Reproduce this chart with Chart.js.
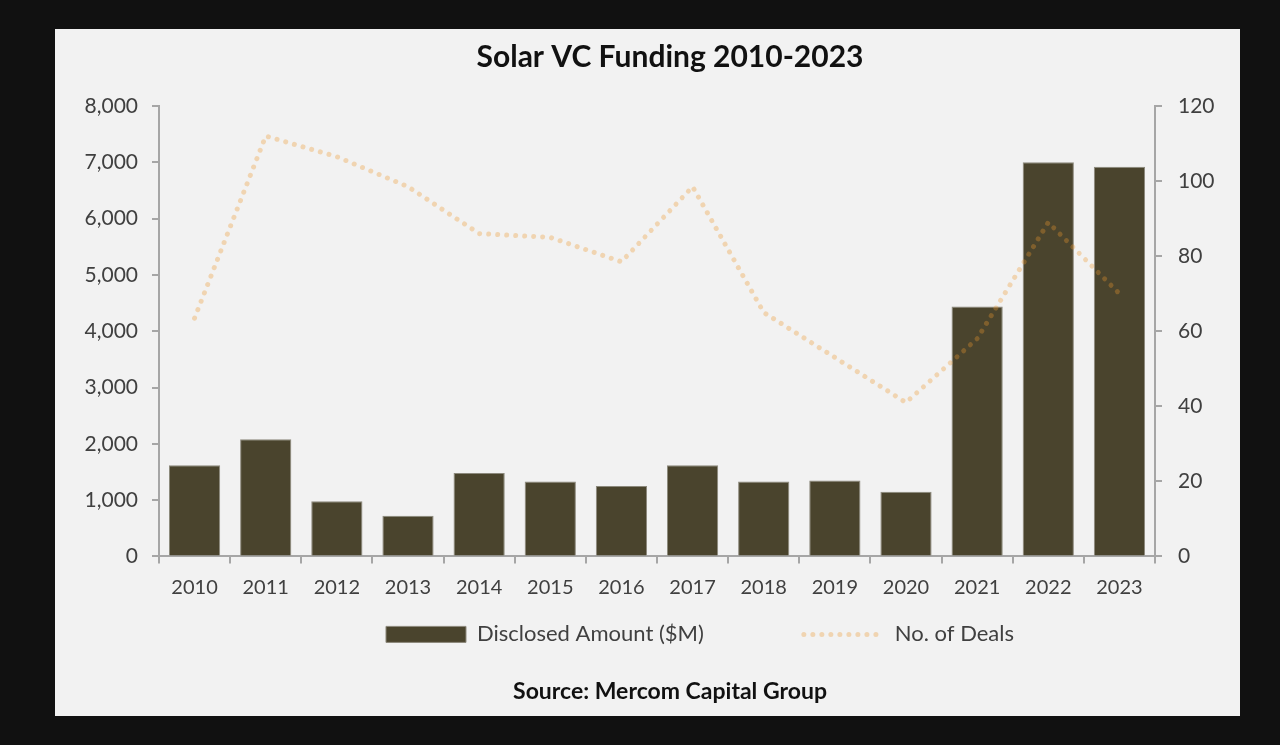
<!DOCTYPE html>
<html>
<head>
<meta charset="utf-8">
<script src="https://cdn.jsdelivr.net/npm/chart.js@4.4.1/dist/chart.umd.min.js"></script>
<style>
  html, body { margin: 0; padding: 0; background: #111111; }
  body { width: 1280px; height: 745px; position: relative; overflow: hidden; }
  #panel {
    position: absolute; left: 55px; top: 29px;
    width: 1185px; height: 687px; background: #f2f2f2;
  }
</style>
</head>
<body>
<div id="panel"><canvas id="vcChart" width="1185" height="687"></canvas></div>
<script>
// Data
const years = ['2010', '2011', '2012', '2013', '2014', '2015', '2016',
               '2017', '2018', '2019', '2020', '2021', '2022', '2023'];
const disclosedAmount = [1620, 2080, 980, 720, 1480, 1330, 1250,
                         1620, 1330, 1350, 1150, 4440, 7000, 6920];
const dealCount = [63.5, 112, 106.5, 98.5, 86, 85, 78.5,
                   98.5, 65, 53, 41, 58, 89, 70];

const FONT = 'Lato, "Open Sans", sans-serif';
const AXIS_GREY = '#a6a6a6';
const TEXT_GREY = '#404040';
const DEAL_COLOR = 'rgba(236, 152, 45, 0.33)';
const DEAL_DASH = [0.01, 9];

// The original legend sits a bit right of centre
const legendShiftPlugin = {
    id: 'legendShift',
    afterLayout(chart) {
        if (chart.legend) {
            chart.legend.left += 60;
        }
    }
};

const ctx = document.getElementById('vcChart').getContext('2d');
const vcChart = new Chart(ctx, {
    type: 'bar',
    data: {
        labels: years,
        datasets: [
            {
                type: 'bar',
                label: 'Disclosed Amount ($M)',
                data: disclosedAmount,
                yAxisID: 'y',
                backgroundColor: '#4a442d',
                borderColor: '#8c897c',
                borderWidth: 1,
                categoryPercentage: 1,
                barPercentage: 0.72,
                pointStyle: 'rect',
                order: 2
            },
            {
                type: 'line',
                label: 'No. of Deals',
                data: dealCount,
                yAxisID: 'y1',
                borderColor: DEAL_COLOR,
                backgroundColor: DEAL_COLOR,
                borderWidth: 5,
                borderDash: DEAL_DASH,
                borderCapStyle: 'round',
                pointRadius: 0,
                pointStyle: 'line',
                tension: 0,
                order: 1
            }
        ]
    },
    plugins: [legendShiftPlugin],
    options: {
        responsive: false,
        animation: false,
        // negative right padding moves the centred title / source a little right
        layout: { padding: { left: 0, right: -45, top: 0, bottom: 11 } },
        plugins: {
            title: {
                display: true,
                text: 'Solar VC Funding 2010-2023',
                color: '#111111',
                font: { family: FONT, size: 30, weight: 'bold' },
                padding: { top: 10, bottom: 31 }
            },
            subtitle: {
                display: true,
                position: 'bottom',
                text: 'Source: Mercom Capital Group',
                color: '#111111',
                font: { family: FONT, size: 23, weight: 'bold' },
                padding: { top: 22, bottom: 0 }
            },
            legend: {
                position: 'bottom',
                labels: {
                    usePointStyle: true,
                    pointStyleWidth: 80,
                    boxHeight: 16,
                    padding: 12,
                    color: TEXT_GREY,
                    font: { family: FONT, size: 22 },
                    sort: (a, b) => a.datasetIndex - b.datasetIndex,
                    generateLabels(chart) {
                        const items = Chart.defaults.plugins.legend.labels.generateLabels(chart);
                        items.forEach((item) => {
                            if (item.datasetIndex === 0) {
                                // wider gap between the two legend entries
                                item.text = item.text + '\u2002'.repeat(8);
                            }
                            if (item.datasetIndex === 1) {
                                item.lineDash = DEAL_DASH;
                                item.lineWidth = 5;
                                item.lineCap = 'round';
                                item.strokeStyle = DEAL_COLOR;
                            }
                        });
                        return items;
                    }
                }
            },
            tooltip: { enabled: false }
        },
        scales: {
            x: {
                grid: {
                    display: true,
                    drawOnChartArea: false,
                    drawTicks: true,
                    tickLength: 7,
                    color: AXIS_GREY,
                    lineWidth: 2
                },
                border: { color: AXIS_GREY, width: 2 },
                ticks: {
                    color: TEXT_GREY,
                    padding: 12,
                    font: { family: FONT, size: 20 }
                }
            },
            y: {
                position: 'left',
                min: 0,
                max: 8000,
                grid: {
                    display: true,
                    drawOnChartArea: false,
                    tickLength: 7,
                    color: AXIS_GREY,
                    lineWidth: 2
                },
                border: { color: AXIS_GREY, width: 2 },
                ticks: {
                    stepSize: 1000,
                    color: TEXT_GREY,
                    padding: 14,
                    font: { family: FONT, size: 21 },
                    callback: (v) => v.toLocaleString('en-US')
                },
                afterFit(scale) { scale.width = 104; }
            },
            y1: {
                position: 'right',
                min: 0,
                max: 120,
                grid: {
                    display: true,
                    drawOnChartArea: false,
                    tickLength: 7,
                    color: AXIS_GREY,
                    lineWidth: 2
                },
                border: { color: AXIS_GREY, width: 2 },
                ticks: {
                    stepSize: 20,
                    color: TEXT_GREY,
                    padding: 16,
                    font: { family: FONT, size: 21 }
                },
                afterFit(scale) { scale.width = 130; }
            }
        }
    }
});
</script>
</body>
</html>
